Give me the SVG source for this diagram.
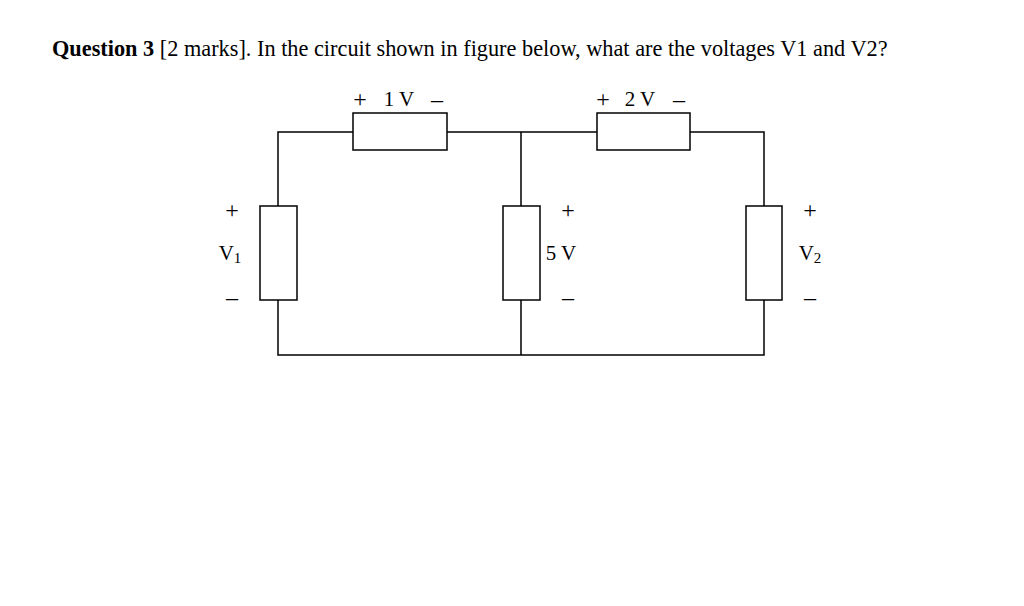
<svg xmlns="http://www.w3.org/2000/svg" width="1024" height="606" viewBox="0 0 1024 606">
<style>
.w{stroke:#000;stroke-width:1.5;fill:none}
.r{stroke:#000;stroke-width:1.5;fill:#fff}
.t{font-family:"Liberation Serif",serif;font-size:22.3px;fill:#000}
.l{font-family:"Liberation Serif",serif;font-size:21px;fill:#000;text-anchor:middle}
.p{font-family:"Liberation Serif",serif;font-size:24px;fill:#000;text-anchor:middle}
</style>
<rect width="1024" height="606" fill="#fff"/>
<text class="t" x="52" y="56"><tspan font-weight="bold">Question 3</tspan> [2 marks]. In the circuit shown in figure below, what are the voltages V1 and V2?</text>
<g id="wires" class="w">
<path d="M353 132H278V206M278 300V355H764V300M764 206V132H690M597 132H447M521 132V206M521 300V355"/>
</g>
<g id="R1"><rect class="r" x="353" y="113" width="94" height="37"/><text class="p" x="360" y="107">+</text><text class="l" x="399" y="106">1 V</text><text class="p" x="437" y="107">–</text></g>
<g id="R2"><rect class="r" x="597" y="113" width="93" height="37"/><text class="p" x="603" y="107">+</text><text class="l" x="640" y="106">2 V</text><text class="p" x="679" y="107">–</text></g>
<g id="RV1"><rect class="r" x="260" y="206" width="37" height="94"/><text class="p" x="232" y="218">+</text><text class="l" x="230" y="260">V<tspan font-size="15" dy="3">1</tspan></text><text class="p" x="232" y="305">–</text></g>
<g id="R5"><rect class="r" x="503" y="206" width="37" height="94"/><text class="p" x="568" y="218">+</text><text class="l" x="561" y="260">5 V</text><text class="p" x="568" y="305">–</text></g>
<g id="RV2"><rect class="r" x="746" y="206" width="36" height="94"/><text class="p" x="810" y="218">+</text><text class="l" x="810" y="260">V<tspan font-size="15" dy="3">2</tspan></text><text class="p" x="810" y="305">–</text></g>
</svg>
